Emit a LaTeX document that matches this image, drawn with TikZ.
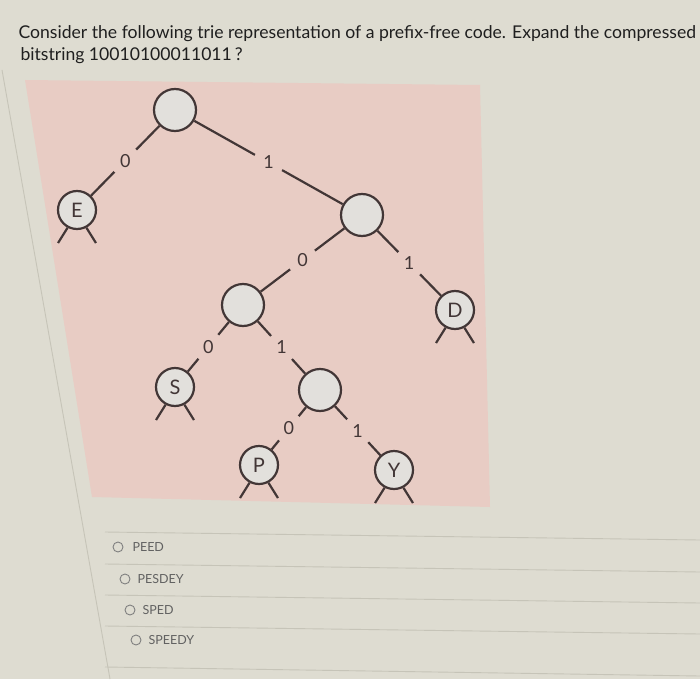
\documentclass[tikz,border=0pt]{standalone}
\usepackage{fontspec}
\setmainfont{Lato}
\usepackage{color}
\definecolor{pagegray}{RGB}{222,220,209}
\definecolor{triepink}{RGB}{232,204,196}
\definecolor{vertexfill}{RGB}{226,224,220}
\definecolor{vertexline}{RGB}{66,54,54}
\definecolor{ruleline}{RGB}{198,196,184}
\usepackage{tikz}
\usetikzlibrary{calc,positioning}
\tikzstyle{vertex}=[draw=vertexline,fill=vertexfill,circle,line width=2.2pt,minimum size=42pt,inner sep=0pt]
\tikzstyle{leaf}=[vertex,minimum size=38pt,font=\fontsize{20}{20}\selectfont,text=vertexline]

\begin{document}
\begin{tikzpicture}[
  x=1pt,y=-1pt,
  edge/.style={draw=vertexline,line width=2.2pt},
  bit/.style={
    circle,
    fill=triepink,
    minimum size=31pt,
    inner sep=0pt,
    text=vertexline,
    font=\fontsize{18}{18}\selectfont
    },
  stub/.style={draw=vertexline,line width=2.2pt},
  question/.style={anchor=base west,text=black!88,font=\fontsize{17.6}{17.6}\selectfont},
  answer/.style={anchor=west,text=black!62,font=\fontsize{12.5}{12.5}\selectfont},
  radio/.style={draw=black!50,line width=0.9pt,circle,minimum size=10pt,inner sep=0pt}
]
% page and panel
\useasboundingbox (0,0) rectangle (700,679);
\fill[pagegray] (0,0) rectangle (700,679);
\fill[triepink] (25,80) -- (480,85) -- (490,507) -- (92,497) -- cycle;
\draw[ruleline,line width=0.9pt] (2,70) -- (110,679);

\node[question] (q1) at (15,39) {Consider the following trie representation of a prefix-free code. Expand the compressed};
\node[question] (q2) at (17,61) {bitstring 10010100011011\,?};

% trie
\node [vertex] (r) at (175,110) {};
\node [leaf] (e) at (77,210) {E};
\node [vertex] (n1) at (362,215) {};
\node [leaf] (d) at (455,310) {D};
\node [vertex] (n10) at (243,305) {};
\node [leaf] (s) at (175,387) {S};
\node [vertex] (n101) at (320,390) {};
\node [leaf] (p) at (259,465) {P};
\node [leaf] (y) at (394,470) {Y};

\draw[edge] (r) -- node[bit] {0} (e);
\draw[edge] (r) -- node[bit] {1} (n1);
\draw[edge] (n1) -- node[bit] {0} (n10);
\draw[edge] (n1) -- node[bit] {1} (d);
\draw[edge] (n10) -- node[bit] {0} (s);
\draw[edge] (n10) -- node[bit] {1} (n101);
\draw[edge] (n101) -- node[bit] {0} (p);
\draw[edge] (n101) -- node[bit] {1} (y);

\foreach \Leaf in {e,d,s,p,y}
  {
  \draw[stub] (\Leaf.-118) -- ++(-122:18pt);
  \draw[stub] (\Leaf.-62) -- ++(-58:18pt);
  }

% answers
\foreach \Ya/\Yb in {532/540,564/572,595/603,626/634,667/676}
  \draw[ruleline,line width=0.9pt] (105,\Ya) -- (700,\Yb);

\node[radio] (o1) at (118,547) {};
\node[radio] (o2) at (125,579) {};
\node[radio] (o3) at (130,610) {};
\node[radio] (o4) at (136,640) {};
\node[answer] (a1) at (129,547) {PEED};
\node[answer] (a2) at (134,579) {PESDEY};
\node[answer] (a3) at (139,610) {SPED};
\node[answer] (a4) at (145,640) {SPEEDY};

\end{tikzpicture}
\end{document}
